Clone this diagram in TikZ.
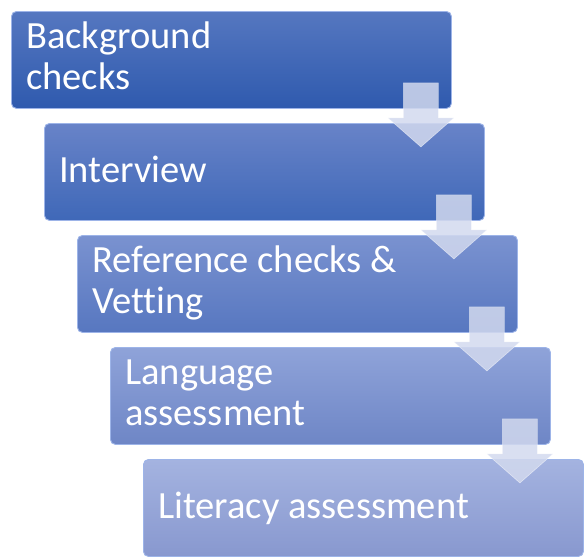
\documentclass[tikz,border=0pt]{standalone}
\usepackage{fontspec}
\setmainfont{Carlito}[Ligatures=NoCommon]
\usetikzlibrary{calc}
\definecolor{t1}{HTML}{5577C0}\definecolor{b1}{HTML}{2F5AAE}
\definecolor{t2}{HTML}{6883C8}\definecolor{b2}{HTML}{3F68B8}
\definecolor{t3}{HTML}{7A92D0}\definecolor{b3}{HTML}{5777C0}
\definecolor{t4}{HTML}{8FA3D9}\definecolor{b4}{HTML}{6E86C6}
\definecolor{t5}{HTML}{A4B3E0}\definecolor{b5}{HTML}{8898CF}
\definecolor{edge}{HTML}{9DB4E8}
\definecolor{arrowfill}{HTML}{D2D9EE}
\tikzset{
  stepbox/.style={rounded corners=5pt, draw=edge, line width=0.9pt, minimum width=440pt, minimum height=97pt, anchor=north west, inner sep=0pt},
  steptext/.style={anchor=base west, align=left, text=white, font=\fontsize{38.5}{41}\selectfont, inner sep=0pt},
  flowarrow/.style={fill=arrowfill, fill opacity=0.85, draw=white, draw opacity=0.5, line width=0.6pt},
}
\begin{document}
\begin{tikzpicture}[x=1pt,y=-1pt]
\useasboundingbox (0,0) rectangle (586,557);
\node[stepbox, top color=t1, bottom color=b1] (s1) at (11,11) {};
\node[stepbox, top color=t2, bottom color=b2] (s2) at (44,123) {};
\node[stepbox, top color=t3, bottom color=b3] (s3) at (77,235) {};
\node[stepbox, top color=t4, bottom color=b4] (s4) at (110,347) {};
\node[stepbox, top color=t5, bottom color=b5] (s5) at (143,459) {};
\node[steptext] (l1) at ($(s1.north west)+(15,78)$) {Background\\checks};
\node[steptext] (l2) at ($(s2.north west)+(15,59)$) {Interview};
\node[steptext] (l3) at ($(s3.north west)+(15,78)$) {Reference checks \&\\Vetting};
\node[steptext] (l4) at ($(s4.north west)+(15,78)$) {Language\\assessment};
\node[steptext] (l5) at ($(s5.north west)+(15,59)$) {Literacy assessment};
\foreach \i in {1,2,3,4}{
  \begin{scope}[shift={(s\i.south east)}]
    \path[flowarrow] (-48.5,-26) -- (-13.5,-26) -- (-13.5,9) -- (2,9) -- (-31,38) -- (-64,9) -- (-48.5,9) -- cycle;
  \end{scope}
}
\end{tikzpicture}
\end{document}
